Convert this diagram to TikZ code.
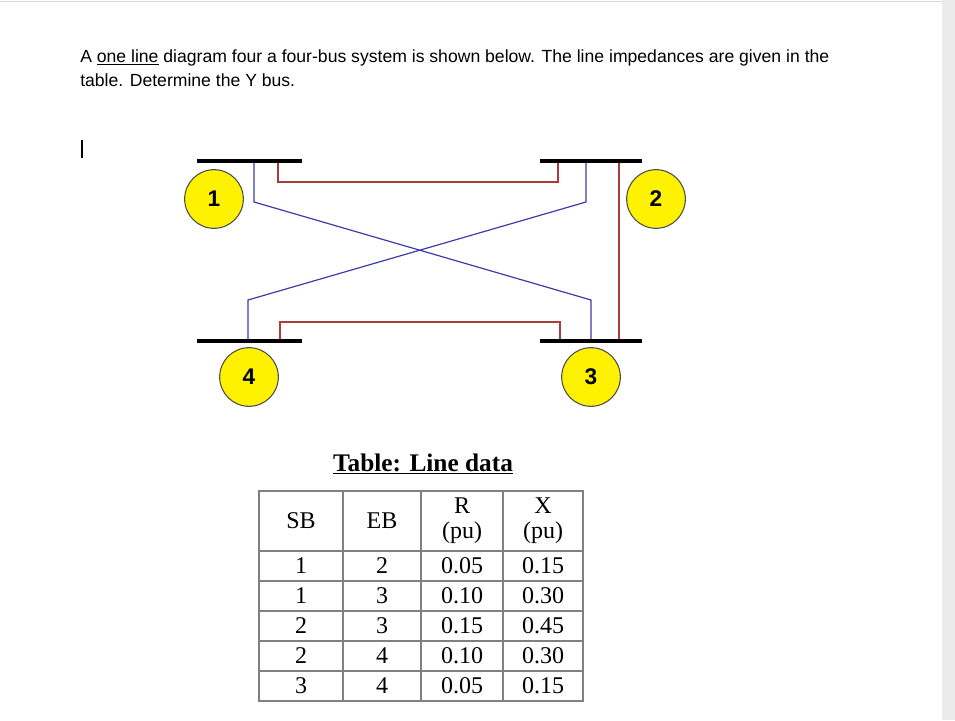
\documentclass[tikz,border=0pt]{standalone}
\usepackage{fontspec}
\setmainfont{Liberation Serif}
\newfontfamily\arial{Liberation Sans}
\begin{document}
\begin{tikzpicture}[x=0.75pt,y=-0.75pt,
 bus/.style={line width=3.6pt},
 rl/.style={draw={rgb,255:red,170;green,60;blue,60},line width=0.9pt},
 bl/.style={draw={rgb,255:red,60;green,60;blue,170},line width=0.9pt},
 busno/.style={circle,draw=black!70,line width=0.8pt,fill=yellow,minimum size=44pt,inner sep=0pt,font=\arial\bfseries\fontsize{17}{18}\selectfont},
 cell/.style={font=\fontsize{18}{19}\selectfont},
 grid/.style={draw=black!50,line width=1.2pt}]
\useasboundingbox (0,0) rectangle (955,720);
\fill[black!8] (942,0) rectangle (955,720);
\draw[black!15] (0,1) -- (942,1);
\node[anchor=west,font=\arial\fontsize{13.2}{15}\selectfont,inner sep=0] (t1) at (80,58) {A \underline{one line} diagram four a four-bus system is shown below. The line impedances are given in the};
\node[anchor=west,font=\arial\fontsize{13.2}{15}\selectfont,inner sep=0] (t2) at (80,80) {table. Determine the Y bus.};
\coordinate (c1) at (82,140); \coordinate (c2) at (82,158);
\draw[line width=0.8pt] (c1) -- (c2);
\coordinate (b1l) at (197,161); \coordinate (b1r) at (302,161);
\coordinate (b2l) at (540,161); \coordinate (b2r) at (642,161);
\coordinate (b4l) at (197,341); \coordinate (b4r) at (302,341);
\coordinate (b3l) at (540,341); \coordinate (b3r) at (642,341);
\draw[rl] (278,161) -- (278,182) -- (558,182) -- (558,161);
\draw[rl] (280,341) -- (280,322) -- (560,322) -- (560,341);
\draw[rl] (619,161) -- (619,341);
\draw[bl] (254,161) -- (254,202) -- (591,300) -- (591,341);
\draw[bl] (586,161) -- (586,202) -- (248,300) -- (248,341);
\draw[bus] (b1l) -- (b1r); \draw[bus] (b2l) -- (b2r);
\draw[bus] (b4l) -- (b4r); \draw[bus] (b3l) -- (b3r);
\node[busno] (n1) at (214,199) {1};
\node[busno] (n2) at (656,199) {2};
\node[busno] (n4) at (249,377) {4};
\node[busno] (n3) at (591,377) {3};
\node[font=\bfseries\fontsize{19}{21}\selectfont] (title) at (423,464) {\underline{Table: Line data}};
\draw[grid] (259,491) rectangle (583,701);
\foreach \x in {343,421,503} \draw[grid] (\x,491) -- (\x,701);
\foreach \y in {551,581,611,641,671} \draw[grid] (259,\y) -- (583,\y);
\node[cell] (h1) at (301,521) {SB};
\node[cell] (h2) at (382,521) {EB};
\node[cell,align=center] (h3) at (462,521) {R\\(pu)};
\node[cell,align=center] (h4) at (543,521) {X\\(pu)};
\foreach \a/\b/\r/\xx [count=\i] in {1/2/0.05/0.15,1/3/0.10/0.30,2/3/0.15/0.45,2/4/0.10/0.30,3/4/0.05/0.15}{
 \node[cell] (r\i a) at (301,536+30*\i) {\a};
 \node[cell] (r\i b) at (382,536+30*\i) {\b};
 \node[cell] (r\i c) at (462,536+30*\i) {\r};
 \node[cell] (r\i d) at (543,536+30*\i) {\xx};
}
\end{tikzpicture}
\end{document}
